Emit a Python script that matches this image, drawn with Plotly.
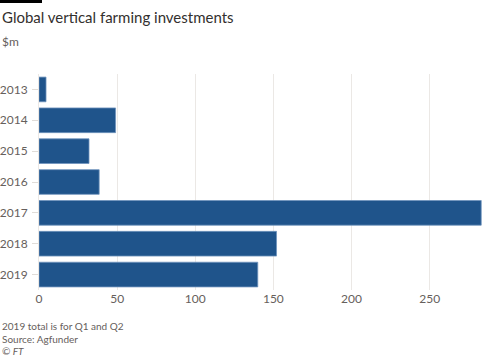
import plotly.graph_objects as go

years = ["2013", "2014", "2015", "2016", "2017", "2018", "2019"]
investments = [4.5, 49, 32, 38.5, 283, 152, 140]
x_ticks = [0, 50, 100, 150, 200, 250]

W, H = 500, 357
L, R, T, B = 39, 18, 74, 67
PW, PH = W - L - R, H - T - B


def px(x):
    return (x - L) / PW


def py(y):
    return (H - B - y) / PH


fig = go.Figure(go.Bar(
    y=years, x=investments, orientation="h",
    marker=dict(color="#1f548b", line=dict(color="#6f93bd", width=0.8)),
    width=0.8,
))

fig.update_layout(
    width=W, height=H,
    margin=dict(l=L, r=R, t=T, b=B),
    paper_bgcolor="white", plot_bgcolor="white",
    font=dict(family="Lato, sans-serif", color="#66605c", size=12),
    showlegend=False,
    bargap=0.2,
    xaxis=dict(range=[0, 283.5], tickvals=x_ticks, showgrid=True, gridcolor="#ebe8e5",
               gridwidth=1, zeroline=False, showline=False, ticks="", automargin=False,
               tickfont=dict(size=12, color="#66605c")),
    yaxis=dict(categoryorder="array", categoryarray=years, autorange="reversed",
               ticks="outside", ticklen=6, tickcolor="#e0dcd8", ticklabelstandoff=2,
               showgrid=False, zeroline=False, showline=True, linecolor="#ebe8e5",
               automargin=False, tickfont=dict(size=12, color="#66605c")),
    shapes=[dict(type="rect", xref="paper", yref="paper", x0=px(0), x1=px(42),
                 y0=py(3), y1=py(0), fillcolor="black", line=dict(width=0))],
    annotations=[
        dict(text="Global vertical farming investments", xref="paper", yref="paper",
             x=px(0), y=py(17), xanchor="left", yanchor="middle", showarrow=False,
             font=dict(size=15, color="#33302e")),
        dict(text="$m", xref="paper", yref="paper",
             x=px(0), y=py(41), xanchor="left", yanchor="middle", showarrow=False,
             font=dict(size=12, color="#66605c")),
        dict(text="2019 total is for Q1 and Q2", xref="paper", yref="paper",
             x=px(0), y=py(326), xanchor="left", yanchor="middle", showarrow=False,
             font=dict(size=10, color="#66605c")),
        dict(text="Source: Agfunder", xref="paper", yref="paper",
             x=px(0), y=py(339), xanchor="left", yanchor="middle", showarrow=False,
             font=dict(size=10, color="#66605c")),
        dict(text="<i>© FT</i>", xref="paper", yref="paper",
             x=px(0), y=py(351), xanchor="left", yanchor="middle", showarrow=False,
             font=dict(size=10, color="#66605c")),
    ],
)

fig.write_html("out.html", config={"displayModeBar": False},
               post_script="document.body.style.margin='0';document.body.style.padding='0';")
